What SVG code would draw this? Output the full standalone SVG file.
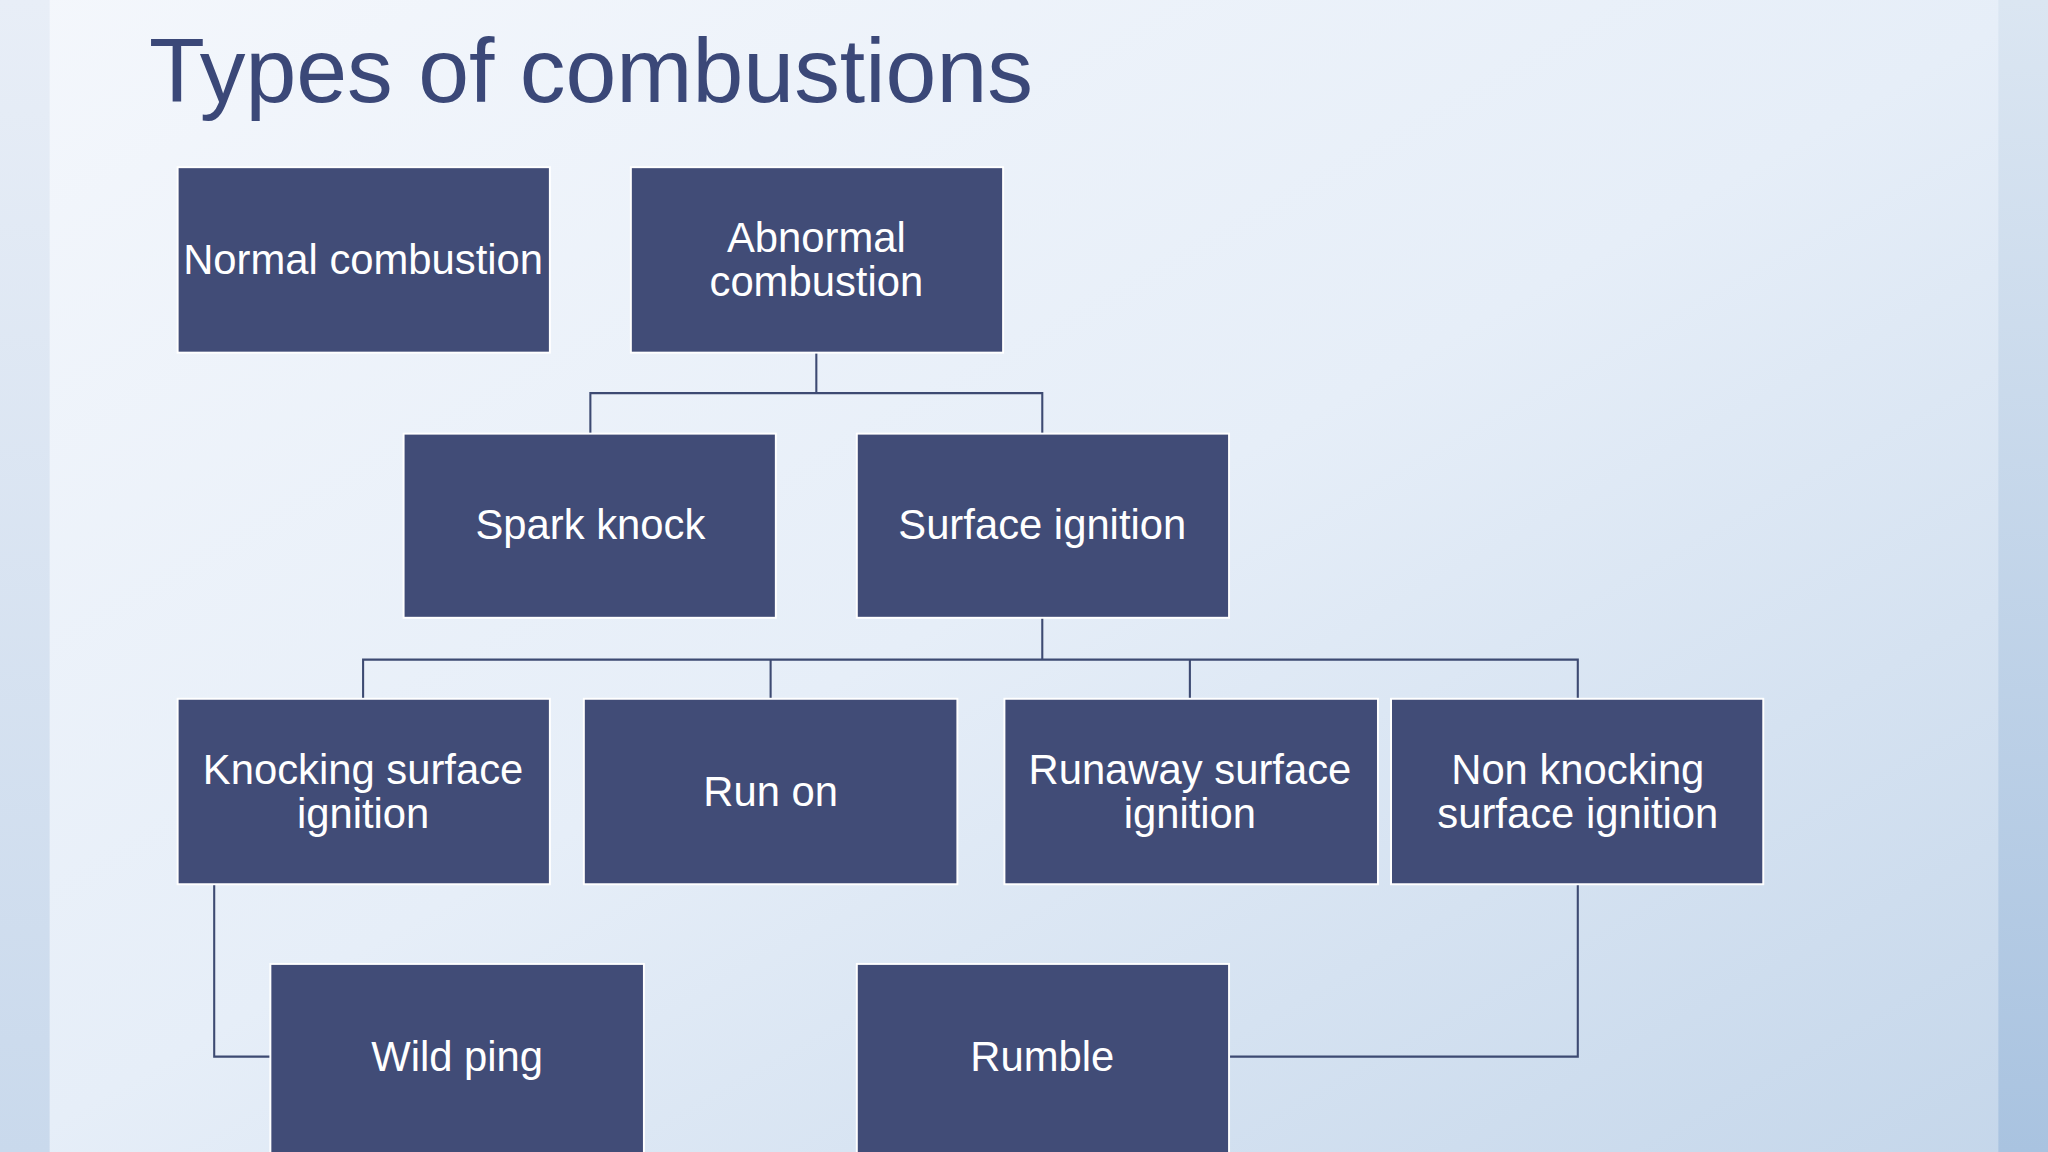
<svg xmlns="http://www.w3.org/2000/svg" width="2048" height="1152" viewBox="0 0 2048 1152">
<defs>
<linearGradient id="bg" x1="0" y1="0" x2="1" y2="1">
<stop offset="0" stop-color="#f4f7fc"/>
<stop offset="0.5" stop-color="#e6eef8"/>
<stop offset="1" stop-color="#c4d6ea"/>
</linearGradient>
<linearGradient id="rs" x1="0" y1="0" x2="0" y2="1">
<stop offset="0" stop-color="#dbe6f2"/>
<stop offset="1" stop-color="#a9c3e0"/>
</linearGradient>
<linearGradient id="ls" x1="0" y1="0" x2="0" y2="1">
<stop offset="0" stop-color="#e8eef7"/>
<stop offset="1" stop-color="#c9d9ec"/>
</linearGradient>
<style>
.b{fill:#414c77;stroke:#ffffff;stroke-width:1.5}
.t{fill:#ffffff;font-family:"Liberation Sans",Arial,sans-serif;font-size:32px;text-anchor:middle}
.c{fill:none;stroke:#3d4a72;stroke-width:1.6}
</style>
</defs>
<g transform="scale(1.306122)">
<rect width="1568" height="882" fill="url(#bg)"/>
<rect x="0" width="38" height="882" fill="url(#ls)"/>
<rect x="1530" width="38" height="882" fill="url(#rs)"/>
<text x="114" y="78" font-family="'Liberation Sans',Arial,sans-serif" font-size="70" fill="#3b4878">Types of combustions</text>
<g id="connectors">
<path class="c" d="M625 270V301M452 332V301H798V332"/>
<path class="c" d="M798 473V505M278 535V505H1208V535M590 505V535M911 505V535"/>
<path class="c" d="M164 677V809H207"/>
<path class="c" d="M1208 677V809H941"/>
</g>
<g id="normal"><rect class="b" x="136" y="128" width="285" height="142"/><text class="t" x="278" y="210">Normal combustion</text></g>
<g id="abnormal"><rect class="b" x="483" y="128" width="285" height="142"/><text class="t" x="625" y="193">Abnormal</text><text class="t" x="625" y="227">combustion</text></g>
<g id="spark"><rect class="b" x="309" y="332" width="285" height="141"/><text class="t" x="452" y="413">Spark knock</text></g>
<g id="surface"><rect class="b" x="656" y="332" width="285" height="141"/><text class="t" x="798" y="413">Surface ignition</text></g>
<g id="knocking"><rect class="b" x="136" y="535" width="285" height="142"/><text class="t" x="278" y="600">Knocking surface</text><text class="t" x="278" y="634">ignition</text></g>
<g id="runon"><rect class="b" x="447" y="535" width="286" height="142"/><text class="t" x="590" y="617">Run on</text></g>
<g id="runaway"><rect class="b" x="769" y="535" width="286" height="142"/><text class="t" x="911" y="600">Runaway surface</text><text class="t" x="911" y="634">ignition</text></g>
<g id="nonknocking"><rect class="b" x="1065" y="535" width="285" height="142"/><text class="t" x="1208" y="600">Non knocking</text><text class="t" x="1208" y="634">surface ignition</text></g>
<g id="wildping"><rect class="b" x="207" y="738" width="286" height="150"/><text class="t" x="350" y="820">Wild ping</text></g>
<g id="rumble"><rect class="b" x="656" y="738" width="285" height="150"/><text class="t" x="798" y="820">Rumble</text></g>
</g>
</svg>
